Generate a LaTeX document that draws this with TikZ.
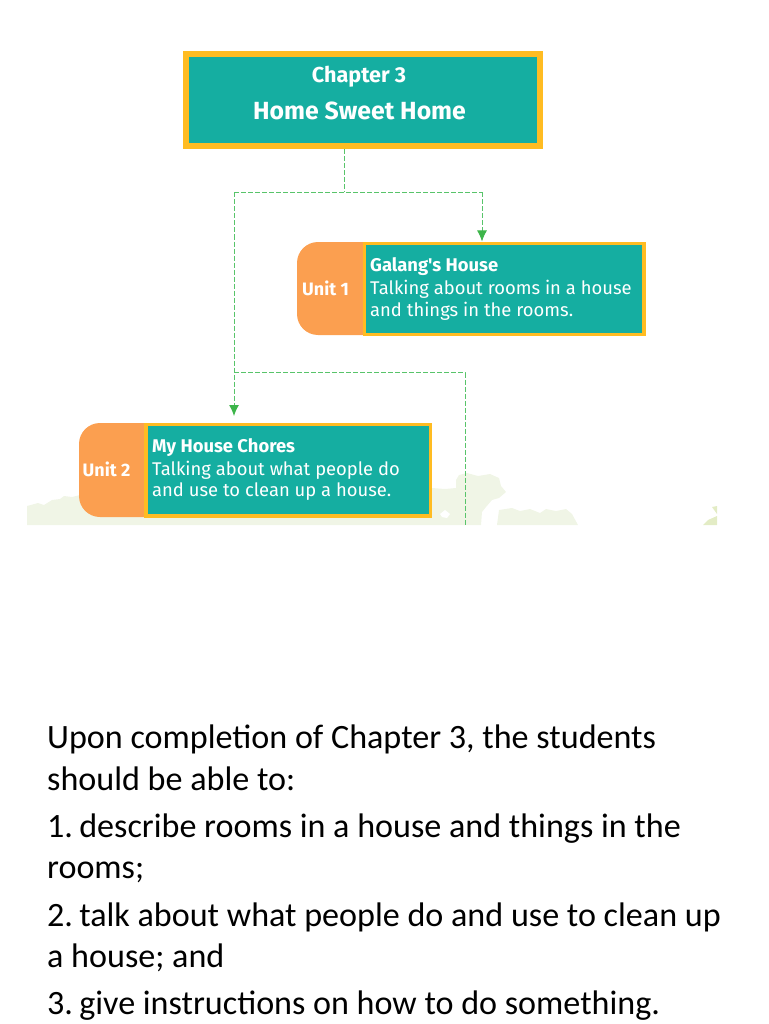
\documentclass[tikz,border=0pt]{standalone}
\usepackage{fontspec}
\setmainfont{Carlito}
\newfontfamily\fira{Fira Sans}
\usetikzlibrary{arrows.meta}
\definecolor{teal}{HTML}{15AEA1}
\definecolor{gold}{HTML}{FFBC22}
\definecolor{tabor}{HTML}{FB9F50}
\definecolor{linkg}{HTML}{58C46A}
\definecolor{tipg}{HTML}{3DB54A}
\definecolor{pale}{HTML}{F0F5E6}
\definecolor{paledark}{HTML}{E3ECC5}
\tikzset{
  chapbox/.style={draw=gold,line width=6pt,fill=teal,minimum width=354pt,minimum height=92pt,inner sep=0pt},
  unitbox/.style={draw=gold,line width=3.4pt,fill=teal,inner sep=0pt},
  link/.style={draw=linkg,line width=1pt,dash pattern=on 5pt off 2pt},
  tip/.style={-{Latex[length=11pt,width=10pt,color=tipg]}},
  wt/.style={text=white,anchor=west,inner sep=0pt},
  bodyt/.style={wt,font=\fira\fontsize{18.4}{18.4}\selectfont},
  headt/.style={wt,font=\fira\bfseries\fontsize{18.4}{18.4}\selectfont},
  tagt/.style={wt,font=\fira\bfseries\fontsize{18}{18}\selectfont},
  lower/.style={anchor=base west,inner sep=0pt,font=\fontsize{34.1}{34}\selectfont}
}
\begin{document}
\begin{tikzpicture}[x=1pt,y=-1pt]
\useasboundingbox (0,0) rectangle (768,1024);
% pale background scenery
\fill[pale] (27,525) -- (27,506) -- (38,503) -- (44,505) -- (52,500) -- (60,499) -- (64,496) -- (72,497) -- (80,495) -- (200,495) -- (200,525) -- cycle;
\fill[pale] (200,525) -- (200,500) -- (432,488) -- (445,489) -- (456,488) -- (456,480) -- (459,475) -- (467,473) -- (478,476) -- (490,474) -- (499,478) -- (501,486) -- (506,492) -- (499,498) -- (492,500) -- (486,507) -- (482,512) -- (481,525) -- cycle;
\fill[white] (440,514) -- (445,510) -- (450,514) -- (447,518) -- (442,517) -- cycle;
\fill[pale] (497,525) -- (499,510) -- (512,508) -- (520,511) -- (530,509) -- (540,513) -- (546,509) -- (556,511) -- (566,509) -- (572,514) -- (578,525) -- cycle;
\fill[paledark] (703,525) -- (708,520) -- (717,516) -- (717,525) -- cycle;
\fill[paledark] (712,507) -- (717,506) -- (717,514) -- cycle;
% chapter box
\node[chapbox] (chap) at (363,100) {};
\node[text=white,font=\fira\bfseries\fontsize{21.6}{21.6}\selectfont] (chapno) at (359,76.5) {Chapter 3};
\node[text=white,font=\fira\bfseries\fontsize{24.8}{24.8}\selectfont] (chapname) at (359.5,111) {Home Sweet Home};
% unit 1
\fill[tabor] (366,242) -- (318,242) arc[start angle=-90,end angle=-180,radius=21] -- (297,314) arc[start angle=180,end angle=90,radius=21] -- (366,335) -- cycle;
\node[unitbox,minimum width=279.5pt,minimum height=91pt] (u1) at (504.4,288.7) {};
\node[tagt] (u1tag) at (302,288) {Unit 1};
\node[headt] (u1t) at (370,267) {Galang's House};
\node[bodyt] (u1a) at (370,289) {Talking about rooms in a house};
\node[bodyt] (u1b) at (370,311) {and things in the rooms.};
% unit 2
\fill[tabor] (148,423) -- (100,423) arc[start angle=-90,end angle=-180,radius=21] -- (79,496) arc[start angle=180,end angle=90,radius=21] -- (148,517) -- cycle;
\node[unitbox,minimum width=284.5pt,minimum height=91.5pt] (u2) at (288.2,470.2) {};
\node[tagt] (u2tag) at (82.5,469) {Unit 2};
\node[headt] (u2t) at (152,447.5) {My House Chores};
\node[bodyt] (u2a) at (152,470) {Talking about what people do};
\node[bodyt] (u2b) at (152,492) {and use to clean up a house.};
% connectors
\coordinate (j) at (344,192.5);
\coordinate (jl) at (234,192.5);
\coordinate (jr) at (482,192.5);
\coordinate (k) at (234,372.5);
\coordinate (kr) at (465,372.5);
\coordinate (ke) at (465,525);
\coordinate (u2in) at (234,416);
\draw[link] (chap.south -| j) -- (j);
\draw[link] (jl) -- (jr);
\draw[link,tip] (jr) -- (jr |- u1.north);
\draw[link,tip] (jl) -- (u2in);
\draw[link] (k) -- (kr) -- (ke);
% lower text
\node[lower] (l1) at (47,748) {Upon completion of Chapter 3, the students};
\node[lower] (l2) at (47,790) {should be able to:};
\node[lower] (l3) at (47,837) {1.\kern-1.5pt\ describe rooms in a house and things in the};
\node[lower] (l4) at (47,878) {rooms;};
\node[lower] (l5) at (47,926) {2.\kern-1.5pt\ talk about what people do and use to clean up};
\node[lower] (l6) at (47,967) {a house; and};
\node[lower] (l7) at (47,1014) {3.\kern-1.5pt\ give instructions on how to do something.};
\end{tikzpicture}
\end{document}
